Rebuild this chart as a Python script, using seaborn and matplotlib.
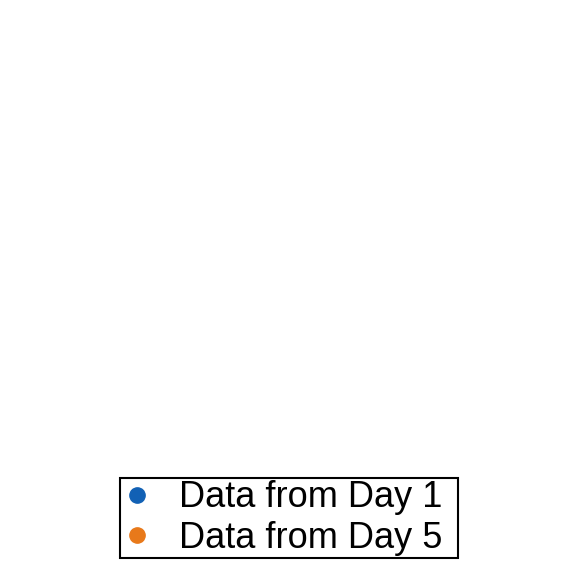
import matplotlib
matplotlib.use("Agg")
import matplotlib.pyplot as plt
from matplotlib.lines import Line2D
from matplotlib.patches import Rectangle
import seaborn as sns
import pandas as pd

# Series labels and colours (the plot area itself shows no visible data)
labels = ["Data from Day 1", "Data from Day 5"]
colors = ["#1261b5", "#e8791a"]
day1_values = []
day5_values = []

sns.set_theme(style="white")
plt.rcParams['font.family'] = ['Liberation Sans', 'DejaVu Sans']

W = H = 576
fig = plt.figure(figsize=(5.76, 5.76), dpi=100)
ax = fig.add_axes([0, 0, 1, 1])

df = pd.DataFrame({
    "x": list(range(len(day1_values))) + list(range(len(day5_values))),
    "y": day1_values + day5_values,
    "series": [labels[0]] * len(day1_values) + [labels[1]] * len(day5_values),
})
if len(df):
    sns.scatterplot(data=df, x="x", y="y", hue="series", palette=colors, ax=ax, legend=False)
ax.set_axis_off()

handles = [Line2D([], [], linestyle="none", marker="o", markersize=11,
                  markerfacecolor=c, markeredgecolor=c) for c in colors]
leg = fig.legend(handles, labels, loc="lower left", bbox_to_anchor=(120 / W, 18 / H),
                 fontsize=26, frameon=False, borderpad=0.06, labelspacing=0.15,
                 handletextpad=0.74, handlelength=0.84, borderaxespad=0)
for t in leg.get_texts():
    t.set_color("black")

# Frame drawn around the legend with extra padding on the right (MATLAB style)
fig.canvas.draw()
bb = leg.get_window_extent()
tb = max(t.get_window_extent().x1 for t in leg.get_texts())
x0, y0 = bb.x0, bb.y0
x1 = tb + 15
y1 = bb.y1
fig.add_artist(Rectangle((x0 / W, y0 / H), (x1 - x0) / W, (y1 - y0) / H,
                         transform=fig.transFigure, fill=False,
                         edgecolor="black", linewidth=1.5))

fig.savefig("out.png", dpi=100, facecolor="white")
